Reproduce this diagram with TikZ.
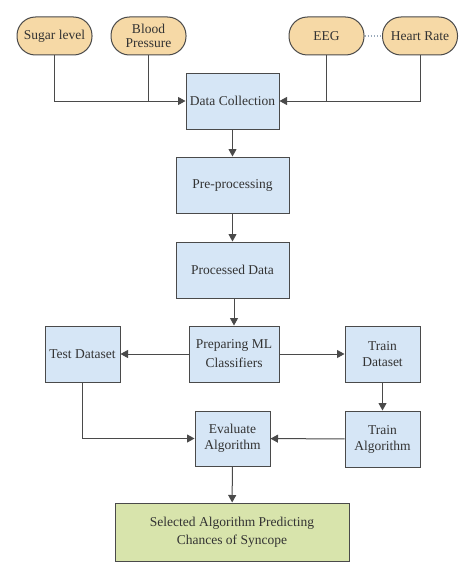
\documentclass[tikz,border=0pt]{standalone}
\usepackage{fontspec}
\setmainfont{Liberation Serif}
\usetikzlibrary{arrows.meta}
\definecolor{ovalfill}{HTML}{F6D9A6}
\definecolor{boxfill}{HTML}{D6E6F6}
\definecolor{greenfill}{HTML}{D8E4AC}
\definecolor{edge}{HTML}{4A4A4A}
\definecolor{dotc}{HTML}{9AAABB}
\tikzset{
  oval/.style={draw=edge, line width=1pt, fill=ovalfill, rounded corners=18.5pt,
    minimum width=75pt, minimum height=38pt, inner sep=0pt, align=center,
    font=\fontsize{13.5}{13.5}\selectfont, text=black!80},
  box/.style={draw=edge, line width=1pt, fill=boxfill, minimum height=56pt,
    inner sep=0pt, align=center, font=\fontsize{13.5}{16}\selectfont, text=black!80},
  finalbox/.style={box, fill=greenfill, minimum width=234pt, minimum height=58pt,
    font=\fontsize{13.5}{18}\selectfont},
  conn/.style={draw=edge, line width=1pt},
  arr/.style={conn, -{Triangle[length=7.5pt,width=8pt]}},
}
\begin{document}
\begin{tikzpicture}[x=1pt,y=-1pt]
\useasboundingbox (0,0) rectangle (474,578);
\node[oval] (sugar) at (54.5,36) {Sugar level};
\node[oval] (blood) at (148.5,36) {Blood\\Pressure};
\node[oval] (eeg) at (326.5,36) {EEG};
\node[oval] (heart) at (420,36) {Heart Rate};
\node[box, minimum width=93pt] (dc) at (232.5,101) {Data Collection};
\node[box, minimum width=113pt] (pre) at (232.5,185) {Pre-processing};
\node[box, minimum width=113pt] (proc) at (232.5,270) {Processed Data};
\node[box, minimum width=90pt, font=\fontsize{13.5}{19}\selectfont] (prep) at (234,354) {Preparing ML\\Classifiers};
\node[box, minimum width=75pt] (test) at (82.5,354) {Test Dataset};
\node[box, minimum width=75pt] (traind) at (382.5,354) {Train\\Dataset};
\node[box, minimum width=75pt, minimum height=55pt] (eval) at (232.5,438.5) {Evaluate\\Algorithm};
\node[box, minimum width=75pt] (traina) at (382.5,439) {Train\\Algorithm};
\node[finalbox] (final) at (232,532) {Selected Algorithm Predicting\\Chances of Syncope};

\draw[dotc, line width=1.1pt, dotted] (eeg.east) -- (heart.west);

\draw[arr] (sugar.south) |- (dc.west);
\draw[conn] (blood.south) -- (blood.south |- dc.west);
\draw[arr] (heart.south) |- (dc.east);
\draw[conn] (eeg.south) -- (eeg.south |- dc.east);
\draw[arr] (dc) -- (pre);
\draw[arr] (pre) -- (proc);
\draw[arr] (proc.south -| prep.north) -- (prep.north);
\draw[arr] (prep) -- (test);
\draw[arr] (prep) -- (traind);
\draw[arr] (traind) -- (traina);
\draw[arr] (traina) -- (eval);
\draw[arr] (test.south) |- (eval.west);
\draw[arr] (eval) -- (final);
\end{tikzpicture}
\end{document}
